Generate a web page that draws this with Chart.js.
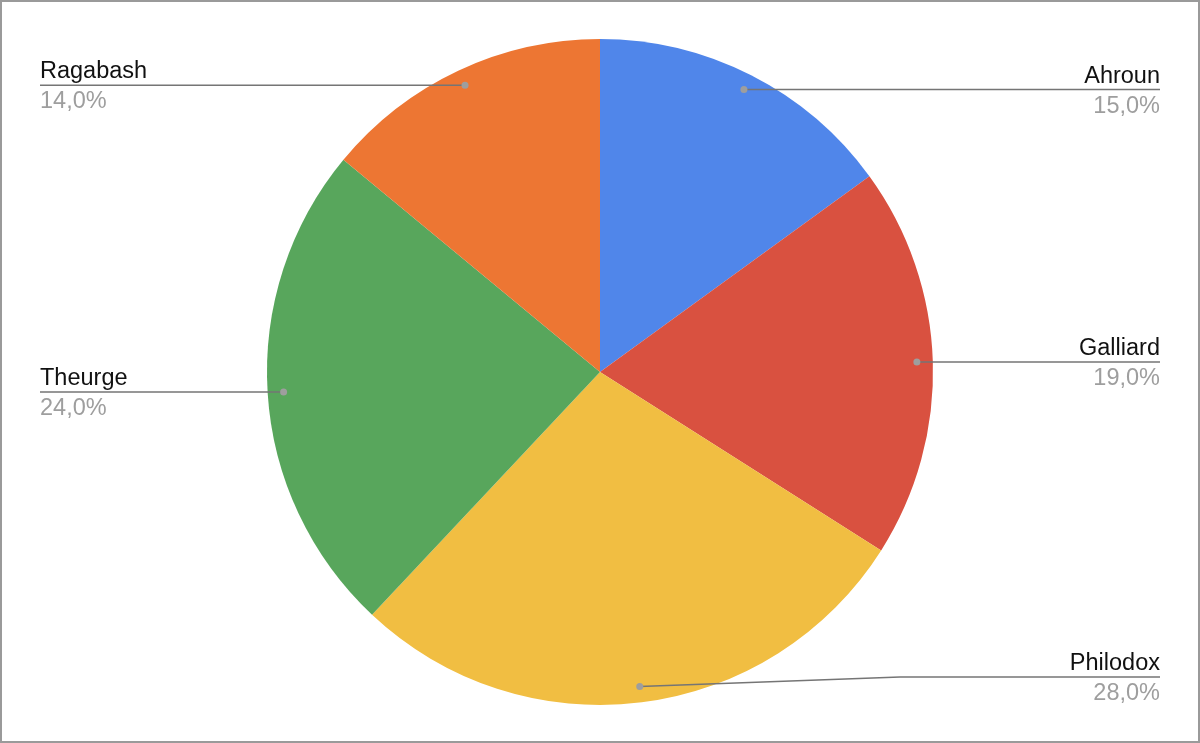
<!DOCTYPE html>
<html>
<head>
<meta charset="utf-8">
<script src="https://cdn.jsdelivr.net/npm/chart.js@4"></script>
<style>
  html, body { margin: 0; padding: 0; background: #fff; }
  #wrap { width: 1200px; height: 743px; }
</style>
</head>
<body>
<div id="wrap"><canvas id="pie" width="1200" height="743"></canvas></div>
<script>
var labels = ['Ahroun', 'Galliard', 'Philodox', 'Theurge', 'Ragabash'];
var values = [15, 19, 28, 24, 14];
var colors = ['#5086ea', '#d95140', '#f1be42', '#58a65c', '#ed7633'];

var FONT = '"Liberation Sans", Arial, sans-serif';

// frame around the picture
var framePlugin = {
    id: 'frame',
    afterDraw: function(chart) {
        var ctx = chart.ctx;
        ctx.save();
        ctx.strokeStyle = '#9a9a9a';
        ctx.lineWidth = 2;
        ctx.strokeRect(1, 1, chart.width - 2, chart.height - 2);
        ctx.restore();
    }
};

// leader lines + labels, like the spreadsheet pie
var labelPlugin = {
    id: 'sideLabels',
    afterDatasetsDraw: function(chart) {
        var ctx = chart.ctx;
        var meta = chart.getDatasetMeta(0);
        var total = values.reduce(function(a, b) { return a + b; }, 0);
        var leftX = 40, rightX = chart.width - 40;
        var maxY = chart.height - 66;

        meta.data.forEach(function(arc, i) {
            var p = arc.getProps(['x', 'y', 'startAngle', 'endAngle', 'outerRadius'], true);
            var mid = (p.startAngle + p.endAngle) / 2;
            var r = p.outerRadius * 0.952;
            var dx = p.x + Math.cos(mid) * r;
            var dy = p.y + Math.sin(mid) * r;
            var right = Math.cos(mid) >= 0;
            var ly = Math.min(dy, maxY);

            ctx.save();
            ctx.strokeStyle = '#757575';
            ctx.lineWidth = 1.5;
            ctx.beginPath();
            ctx.moveTo(dx, dy);
            if (right) {
                if (ly !== dy) {
                    ctx.lineTo(rightX - 260, ly);
                }
                ctx.lineTo(rightX, ly);
            } else {
                if (ly !== dy) {
                    ctx.lineTo(leftX + 260, ly);
                }
                ctx.lineTo(leftX, ly);
            }
            ctx.stroke();

            ctx.fillStyle = '#9e9e9e';
            ctx.beginPath();
            ctx.arc(dx, dy, 3.5, 0, Math.PI * 2);
            ctx.fill();

            ctx.font = '23.5px ' + FONT;
            ctx.textAlign = right ? 'right' : 'left';
            ctx.textBaseline = 'alphabetic';
            var tx = right ? rightX : leftX;
            ctx.fillStyle = '#111';
            ctx.fillText(labels[i], tx, ly - 7);
            ctx.fillStyle = '#9e9e9e';
            var pct = (values[i] / total * 100).toFixed(1).replace('.', ',') + '%';
            ctx.fillText(pct, tx, ly + 23);
            ctx.restore();
        });
    }
};

var ctx1 = document.getElementById('pie').getContext('2d');
var pieChart = new Chart(ctx1, {
    type: 'pie',
    data: {
        labels: labels,
        datasets: [{
            data: values,
            backgroundColor: colors,
            borderWidth: 0
        }]
    },
    options: {
        responsive: false,
        animation: false,
        layout: { padding: { top: 39, bottom: 38, left: 40, right: 40 } },
        plugins: {
            legend: { display: false },
            tooltip: { enabled: false }
        }
    },
    plugins: [labelPlugin, framePlugin]
});
</script>
</body>
</html>
